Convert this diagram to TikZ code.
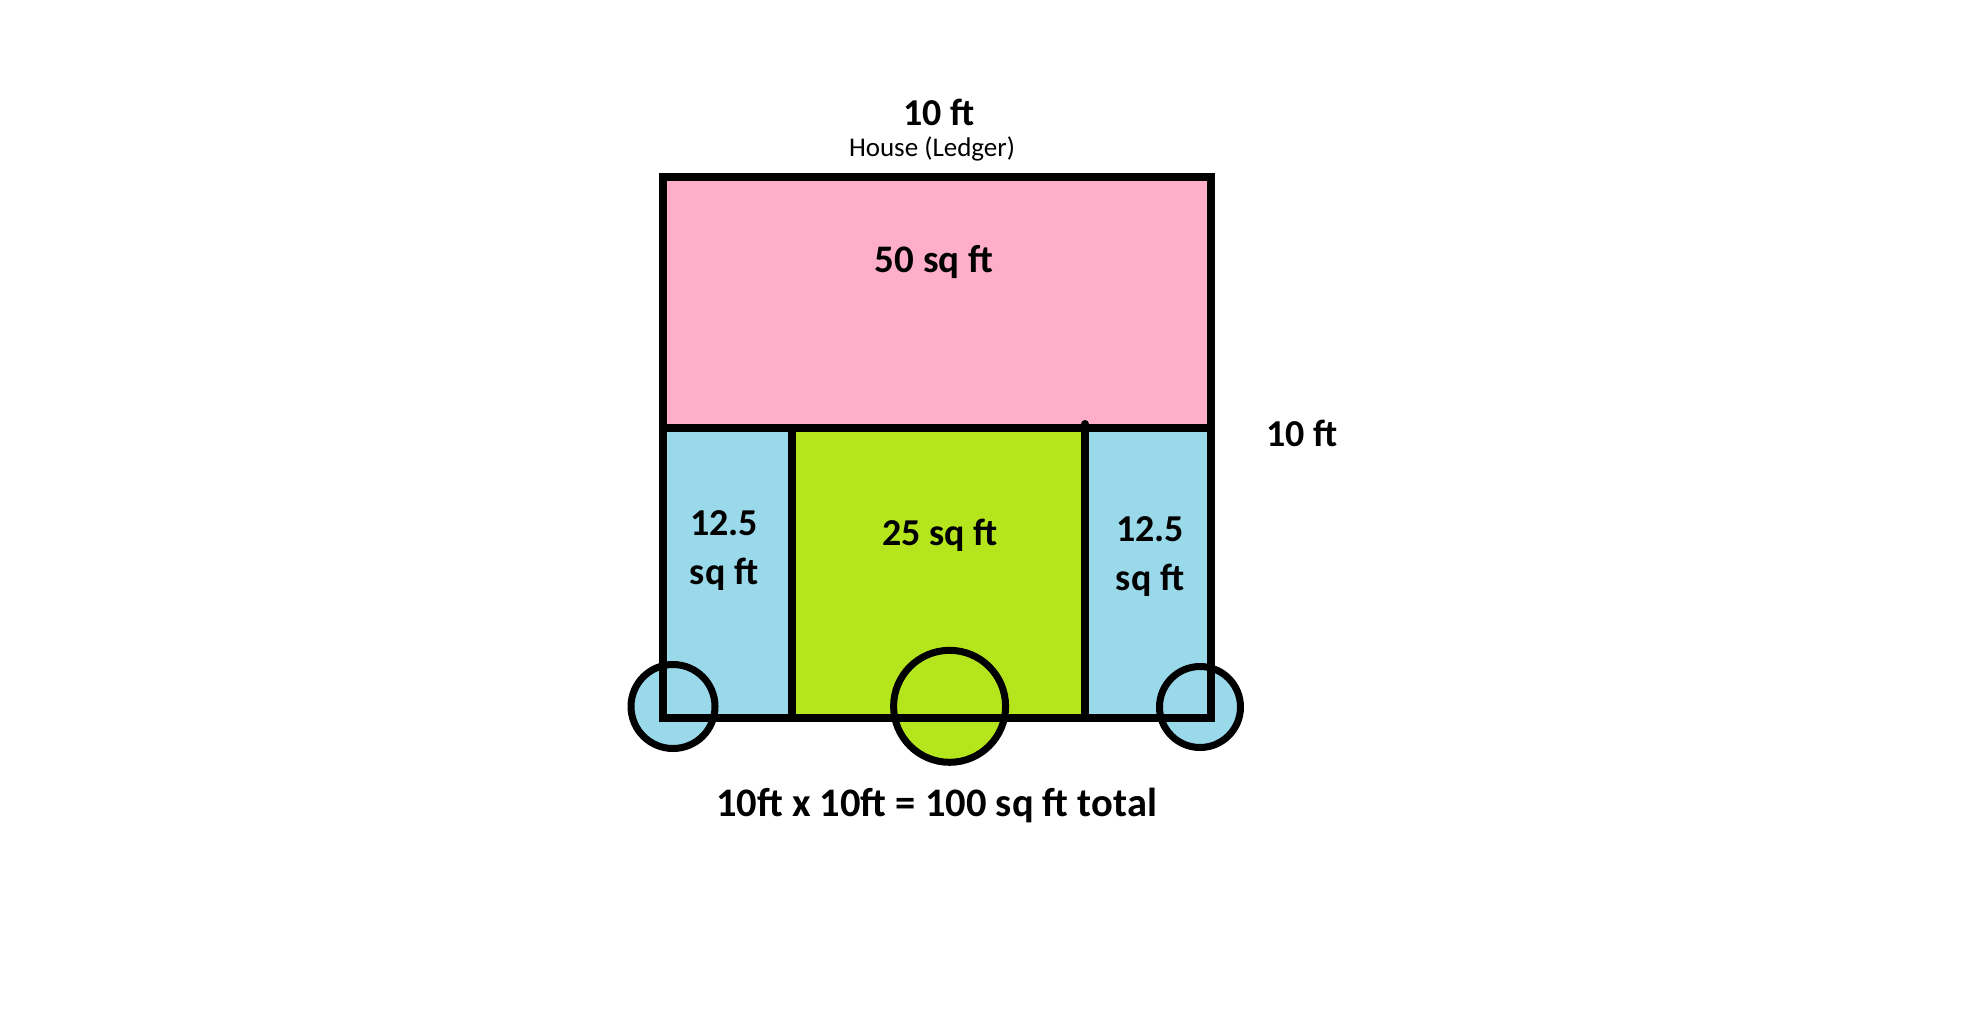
\documentclass[tikz,border=0pt]{standalone}
\usepackage{fontspec}
\setmainfont{Carlito}
\definecolor{roseFill}{HTML}{FFAEC9}
\definecolor{turqFill}{HTML}{99D9EA}
\definecolor{limeFill}{HTML}{B5E61D}
\tikzset{
  border/.style={line width=8pt, draw=black},
  wheel/.style={line width=7pt, draw=black},
  lbl/.style={inner sep=0pt, anchor=base, font=\bfseries\fontsize{38}{49}\selectfont},
}
\begin{document}
\begin{tikzpicture}[x=1pt,y=-1pt]
\useasboundingbox (0,0) rectangle (1973,1018);
% region fills
\fill[roseFill] (663,177) rectangle (1211,428);
\fill[turqFill] (663,428) rectangle (792,718);
\fill[limeFill] (792,428) rectangle (1085,718);
\fill[turqFill] (1085,428) rectangle (1211,718);
% wheels
\filldraw[wheel, fill=turqFill] (673,706.5) circle[radius=42];
\filldraw[wheel, fill=limeFill] (949.6,706.3) circle[radius=56];
\filldraw[wheel, fill=turqFill] (1200,707) circle[radius=40.5];
% borders and dividers
\draw[border] (663,177) rectangle (1211,718);
\draw[border] (659,428) -- (1215,428);
\draw[border] (792,428) -- (792,718);
\draw[border, line cap=round] (1085,424) -- (1085,718);
% labels
\node[lbl] (topdim) at (939,125) {10 ft};
\node[inner sep=0pt, anchor=base, font=\fontsize{27}{30}\selectfont] (house) at (932,156.7) {House (Ledger)};
\node[lbl, font=\bfseries\fontsize{39}{49}\selectfont] (big) at (934,272.7) {50 sq ft};
\node[lbl] (leftarea) at (724,584.5) {\begin{tabular}[b]{@{}c@{}}12.5\\sq ft\end{tabular}};
\node[lbl] (midarea) at (940,545.7) {25 sq ft};
\node[lbl] (rightarea) at (1150,590.5) {\begin{tabular}[b]{@{}c@{}}12.5\\sq ft\end{tabular}};
\node[lbl] (sidedim) at (1302,446.7) {10 ft};
\node[lbl, font=\bfseries\fontsize{40.5}{49}\selectfont] (total) at (936.5,816) {10ft x 10ft = 100 sq ft total};
\end{tikzpicture}
\end{document}
